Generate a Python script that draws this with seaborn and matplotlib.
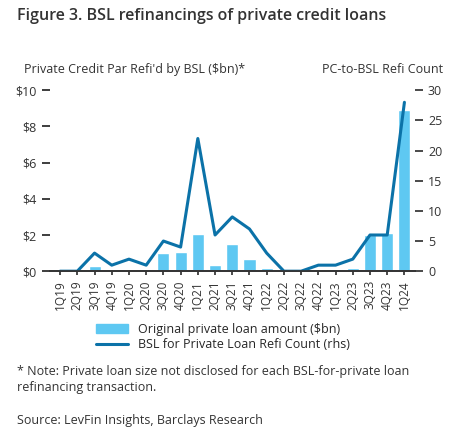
import matplotlib
matplotlib.use("Agg")
import matplotlib.pyplot as plt
import seaborn as sns
import pandas as pd
from matplotlib.lines import Line2D
from matplotlib.patches import Patch

quarters = ["1Q19","2Q19","3Q19","4Q19","1Q20","2Q20","3Q20","4Q20","1Q21","2Q21","3Q21",
            "4Q21","1Q22","2Q22","3Q22","4Q22","1Q23","2Q23","3Q23","4Q23","1Q24"]
amount_bn = [0.05,0,0.3,0,0.02,0.1,1.0,1.05,2.05,0.35,1.5,0.7,0.15,0,0,0.05,0.1,0.2,2.0,2.1,8.9]
refi_count = [0,0,3,1,2,1,5,4,22,6,9,7,3,0,0,1,1,2,6,6,28]

sns.set_theme(style="white")
plt.rcParams['font.family'] = ['Open Sans', 'DejaVu Sans']
bar_c = "#5ec8f2"; line_c = "#0b72a8"; txt = "#333333"

fig = plt.figure(figsize=(4.74, 4.36), dpi=100)
ax = fig.add_axes([0.105, 0.378, 0.77, 0.415])
df = pd.DataFrame({"q": quarters, "amt": amount_bn, "cnt": refi_count})
sns.barplot(data=df, x="q", y="amt", color=bar_c, width=0.7, ax=ax, saturation=1)
ax.set_ylim(0, 10)
ax.set_yticks(range(0, 11, 2))
ax.set_yticklabels([f"${v}" for v in range(0, 11, 2)], fontsize=9, color=txt)
ax.set_xlabel(""); ax.set_ylabel("")
ax.tick_params(axis="x", rotation=90, labelsize=8.5, colors=txt, length=3, bottom=True)
ax.set_xlim(-0.6, len(quarters) - 0.4)
ax2 = ax.twinx()
ax2.plot(range(len(quarters)), refi_count, color=line_c, lw=2.2)
ax2.set_ylim(0, 30)
ax2.set_yticks(range(0, 31, 5))
ax2.tick_params(axis="y", labelsize=9, colors=txt)
for a in (ax, ax2):
    for s in ["top", "right", "left"]:
        a.spines[s].set_visible(False)
    a.spines["bottom"].set_color("#333333")

fig.text(0.035, 0.963, "Figure 3. BSL refinancings of private credit loans", fontsize=11.5,
         fontweight="semibold", color=txt, va="center")
fig.text(0.05, 0.84, "Private Credit Par Refi'd by BSL ($bn)*", fontsize=9, color=txt, va="center")
fig.text(0.935, 0.84, "PC-to-BSL Refi Count", fontsize=9, color=txt, va="center", ha="right")
fig.legend(handles=[Patch(color=bar_c, label="Original private loan amount ($bn)"),
                    Line2D([], [], color=line_c, lw=2.2, label="BSL for Private Loan Refi Count (rhs)")],
           loc="upper center", bbox_to_anchor=(0.47, 0.285), frameon=False, fontsize=9,
           handlelength=2.6, labelspacing=0.2)
fig.text(0.035, 0.13, "* Note: Private loan size not disclosed for each BSL-for-private loan\nrefinancing transaction.",
         fontsize=9, color=txt, va="center", linespacing=1.3)
fig.text(0.035, 0.035, "Source: LevFin Insights, Barclays Research", fontsize=9, color=txt, va="center")
fig.savefig("out.png", dpi=100)
